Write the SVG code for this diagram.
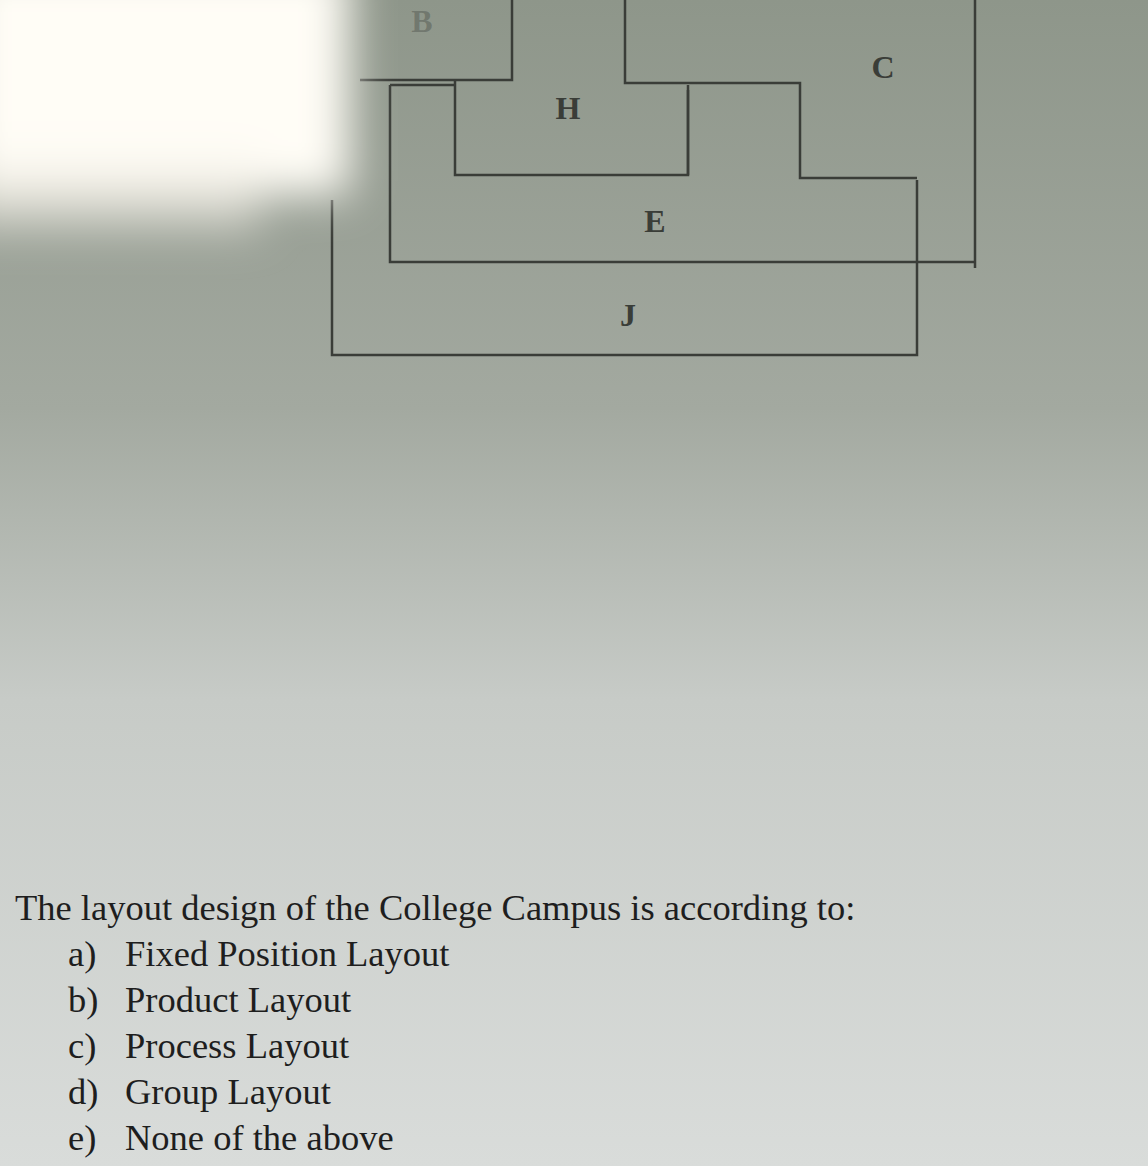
<svg xmlns="http://www.w3.org/2000/svg" width="1148" height="1166" viewBox="0 0 1148 1166">
<defs>
<linearGradient id="bg" x1="0" y1="0" x2="0" y2="1">
<stop offset="0" stop-color="#8e968a"/>
<stop offset="0.35" stop-color="#a3a9a0"/>
<stop offset="0.6" stop-color="#c7cbc7"/>
<stop offset="1" stop-color="#d9dcda"/>
</linearGradient>
<filter id="blur" x="-0.5" y="-0.5" width="2" height="2"><feGaussianBlur stdDeviation="22"/></filter>
<style>
.ln{fill:none;stroke:#3a3d38;stroke-width:2.5}
.lb{font-family:"Liberation Serif",serif;font-weight:bold;font-size:32px;fill:#3a3d38;text-anchor:middle}
.tx{font-family:"Liberation Serif",serif;font-size:36.5px;fill:#1e1e1e}
</style>
</defs>
<rect width="1148" height="1166" fill="url(#bg)"/>
<g id="J"><path class="ln" d="M332 200 V355 H917 V262"/><text class="lb" x="628" y="326">J</text></g>
<g id="E"><path class="ln" d="M390 85 H455 M390 85 V262 H975 M688 175 V90 M917 180 V262"/><text class="lb" x="655" y="232">E</text></g>
<g id="H"><path class="ln" d="M455 80 V175 H688 V85"/><text class="lb" x="568" y="119">H</text></g>
<g id="C"><path class="ln" d="M625 0 V83 H800 V178 H917 M975 0 V268"/><text class="lb" x="883" y="78">C</text></g>
<g id="B"><path class="ln" d="M512 0 V80 H360"/><text class="lb" x="422" y="32" fill-opacity="0.35">B</text></g>
<g filter="url(#blur)">
<rect x="-40" y="-40" width="390" height="235" fill="#fffdf6"/>
<rect x="-40" y="160" width="300" height="70" fill="#f4f0e8" opacity="0.6"/>
</g>
<text class="tx" x="15" y="920">The layout design of the College Campus is according to:</text>
<text class="tx" x="68" y="966">a)</text><text class="tx" x="125" y="966">Fixed Position Layout</text>
<text class="tx" x="68" y="1012">b)</text><text class="tx" x="125" y="1012">Product Layout</text>
<text class="tx" x="68" y="1058">c)</text><text class="tx" x="125" y="1058">Process Layout</text>
<text class="tx" x="68" y="1104">d)</text><text class="tx" x="125" y="1104">Group Layout</text>
<text class="tx" x="68" y="1150">e)</text><text class="tx" x="125" y="1150">None of the above</text>
</svg>
